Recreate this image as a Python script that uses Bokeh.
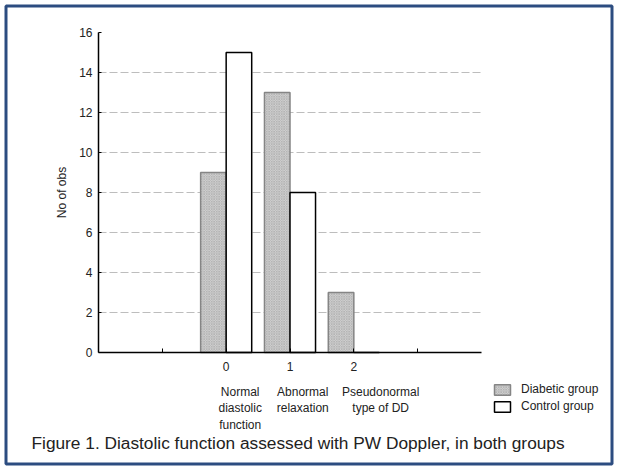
from bokeh.plotting import figure
from bokeh.models import (ColumnDataSource, FixedTicker, LinearAxis, Legend,
                          LegendItem, Label, Range1d, BoxAnnotation)
from bokeh.embed import file_html
from bokeh.resources import INLINE

# ---- data ----
categories = [0, 1, 2]
category_names = ["Normal\ndiastolic\nfunction", "Abnormal\nrelaxation", "Pseudonormal\ntype of DD"]
diabetic = [9, 13, 3]
control = [15, 8, 0]
y_ticks = [0, 2, 4, 6, 8, 10, 12, 14, 16]
series_names = ["Diabetic group", "Control group"]
title_text = "Figure 1. Diastolic function assessed with PW Doppler, in both groups"
y_label = "No of obs"

# ---- layout constants ----
W, H = 617, 470
X_LO, X_HI = -2, 4          # axis extent (data)
Y_LO, Y_HI = 0, 16
AX_LEFT, AX_RIGHT, AX_TOP, AX_BOTTOM = 98, 481, 32, 352   # pixel box of the axes
BAR_W = 0.4
name_offsets = [0.22, 0.2, 0.42]
FONT = "Liberation Sans"
TXT = "#222222"

sx = (AX_RIGHT - AX_LEFT) / (X_HI - X_LO)
sy = (AX_BOTTOM - AX_TOP) / (Y_HI - Y_LO)
x_range = Range1d(X_LO - AX_LEFT / sx, X_HI + (W - AX_RIGHT) / sx)
y_range = Range1d(Y_LO - (H - AX_BOTTOM) / sy, Y_HI + AX_TOP / sy)

p = figure(width=W, height=H, output_backend="svg", toolbar_location=None,
           x_range=x_range, y_range=y_range,
           min_border=0, min_border_left=0, min_border_right=0,
           min_border_top=0, min_border_bottom=0,
           outline_line_color=None,
           background_fill_color="white", border_fill_color="white")

src = ColumnDataSource(dict(
    xd=[c - BAR_W / 2 for c in categories],
    xc=[c + BAR_W / 2 for c in categories],
    diabetic=diabetic, control=control))

r1 = p.vbar(x="xd", top="diabetic", width=BAR_W, source=src,
            fill_color="#dadada", line_color="#858585", line_width=1.5,
            hatch_pattern="diagonal_cross", hatch_color="#b4b4b4",
            hatch_scale=2.5, hatch_weight=1)
r2 = p.vbar(x="xc", top="control", width=BAR_W, source=src,
            fill_color="white", line_color="black", line_width=1.5)

# axes
xa = p.xaxis[0]
xa.fixed_location = Y_LO
xa.bounds = (X_LO, X_HI)
xa.ticker = FixedTicker(ticks=[-1] + categories + [3])
xa.major_label_overrides = {-1: "", 3: ""}
xa.major_tick_in = 4
xa.major_tick_out = 0
xa.minor_tick_line_color = None
xa.axis_line_color = "black"
xa.axis_line_width = 1.5
xa.major_label_text_font = FONT
xa.major_label_text_font_size = "12px"
xa.major_label_text_color = TXT
xa.major_label_standoff = 9

xa2 = LinearAxis(ticker=FixedTicker(ticks=[c + o for c, o in zip(categories, name_offsets)]),
                 major_label_overrides={c + o: n for c, o, n in zip(categories, name_offsets, category_names)},
                 fixed_location=Y_LO, bounds=(X_LO, X_HI),
                 axis_line_color=None, major_tick_line_color=None,
                 minor_tick_line_color=None, major_label_standoff=26,
                 major_label_text_font=FONT, major_label_text_font_size="12px",
                 major_label_text_color=TXT, major_label_text_line_height=1.2)
p.add_layout(xa2, "below")

ya = p.yaxis[0]
ya.fixed_location = X_LO
ya.bounds = (Y_LO, Y_HI)
ya.ticker = FixedTicker(ticks=y_ticks)
ya.major_tick_in = 3
ya.major_tick_out = 0
ya.minor_tick_line_color = None
ya.axis_line_color = "black"
ya.axis_line_width = 1.5
ya.major_label_text_font = FONT
ya.major_label_text_font_size = "12px"
ya.major_label_text_color = TXT
ya.major_label_standoff = 6
ya.axis_label = y_label
ya.axis_label_text_font = FONT
ya.axis_label_text_font_size = "12px"
ya.axis_label_text_font_style = "normal"
ya.axis_label_text_color = TXT
ya.axis_label_standoff = 7

p.xgrid.grid_line_color = None
p.ygrid.ticker = FixedTicker(ticks=y_ticks[1:-1])
p.ygrid.cross_bounds = (X_LO, X_HI)
p.ygrid.grid_line_color = "#bdbdbd"
p.ygrid.grid_line_dash = "8 3"
p.ygrid.grid_line_width = 1

legend = Legend(items=[LegendItem(label=series_names[0], renderers=[r1]),
                       LegendItem(label=series_names[1], renderers=[r2])],
                location=(492, 57), orientation="vertical",
                glyph_width=20, glyph_height=13, label_height=13,
                spacing=3, padding=0, margin=0, border_line_color=None,
                background_fill_alpha=0, label_text_font=FONT,
                label_text_font_size="12px", label_standoff=9,
                label_text_color=TXT)
p.add_layout(legend, "center")

title = Label(text=title_text, x=31, y=442, x_units="canvas", y_units="canvas",
              text_font=FONT, text_font_size="17.3px", text_color=TXT,
              text_baseline="middle", text_align="left")
p.add_layout(title)

frame_box = BoxAnnotation(left=5.5, right=611.5, top=5.5, bottom=463.5,
                          left_units="canvas", right_units="canvas",
                          top_units="canvas", bottom_units="canvas",
                          fill_alpha=0, line_color="#2c4c80", line_alpha=1.0,
                          line_width=3, level="overlay")
p.add_layout(frame_box)

open("out.html", "w").write(file_html(p, INLINE))
